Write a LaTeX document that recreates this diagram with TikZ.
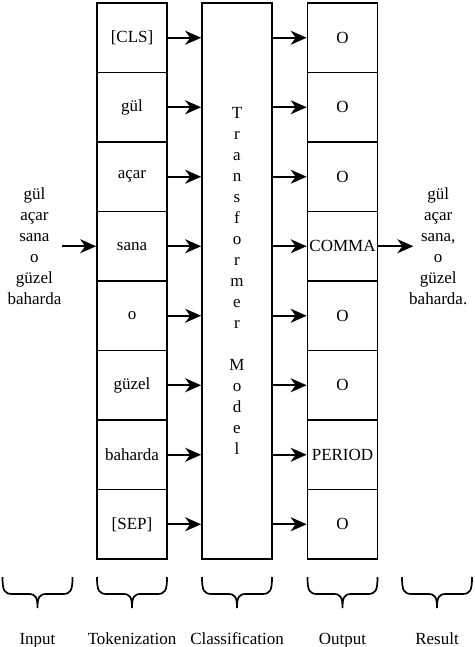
\documentclass[tikz,border=0pt]{standalone}
\usepackage{fontspec}
\setmainfont{Liberation Serif}
\usetikzlibrary{arrows.meta,positioning}

\tikzset{
  ubrace/.pic={
    \draw (-35,0) .. controls (-35,14) and (-33,17) .. (-25,17) -- (-9,17)
      .. controls (-2,17) and (0,20) .. (0,31)
      .. controls (0,20) and (2,17) .. (9,17) -- (25,17)
      .. controls (33,17) and (35,14) .. (35,0);
  }
}

\begin{document}
\begin{tikzpicture}[x=1pt,y=-1pt,line width=1.7pt,
    font=\fontsize{17}{21}\selectfont,
    cell/.style={draw,minimum width=70pt,minimum height=69.5pt,inner sep=0pt},
    arr/.style={-{Stealth[length=16pt,width=14pt,inset=5pt]}}]
  \useasboundingbox (0,0) rectangle (474,647);
  % tokens and labels
  \foreach \tok [count=\i] in {{[CLS]},gül,açar,sana,o,güzel,baharda,{[SEP]}}
    \node[cell] (t\i) at (132,{3+69.5*(\i-0.5)}) {\tok};
  \foreach \lab [count=\i] in {O,O,O,COMMA,O,O,PERIOD,O}
    \node[cell] (o\i) at (342.5,{3+69.5*(\i-0.5)}) {\lab};
  \node[draw,minimum width=70pt,minimum height=556pt,inner sep=0pt,align=center] (model) at (237,281)
    {T\\r\\a\\n\\s\\f\\o\\r\\m\\e\\r\\[21pt]M\\o\\d\\e\\l};
  \foreach \i in {1,...,8} {
    \draw[arr] (t\i.east) -- (t\i.east -| model.west);
    \draw[arr] (model.east |- o\i.west) -- (o\i.west);
  }
  % sentence in and out
  \node[left=34pt of t4,inner sep=0pt,align=center] (in) {gül\\açar\\sana\\o\\güzel\\baharda};
  \node[right=30pt of o4,inner sep=0pt,align=center] (res) {gül\\açar\\sana,\\o\\güzel\\baharda.};
  \draw[arr] (in.east) -- (t4.west);
  \draw[arr] (o4.east) -- ([xshift=5pt]res.west);
  % stages
  \foreach \x/\lab/\nm in {37.5/Input/lin,132/Tokenization/ltok,237/Classification/lcls,342.5/Output/lout,437/Result/lres} {
    \pic at (\x,577) {ubrace};
    \node[anchor=base] (\nm) at (\x,644) {\lab};
  }
\end{tikzpicture}
\end{document}
